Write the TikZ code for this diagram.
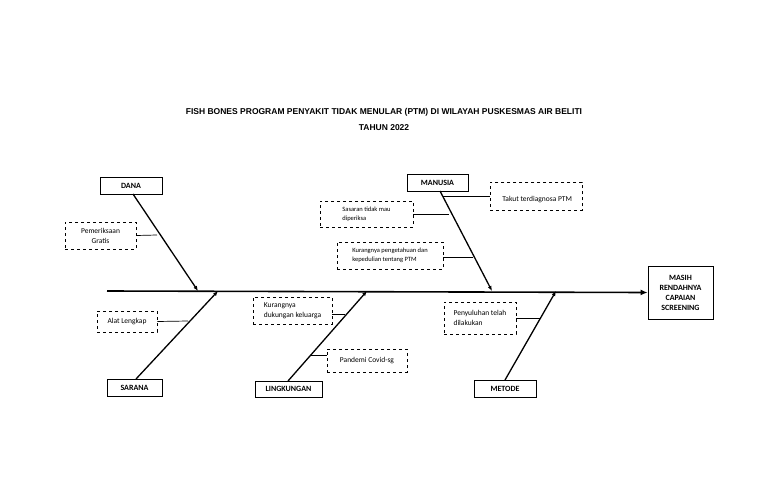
\documentclass[tikz,border=0pt]{standalone}
\usepackage{fontspec}
\setmainfont{Carlito}
\newfontfamily\titlefont{Liberation Sans}
\usetikzlibrary{arrows.meta}
\begin{document}
\begin{tikzpicture}[x=1pt,y=-1pt,
  cat/.style={draw,line width=0.8pt,inner sep=0pt,font=\fontsize{8}{9}\selectfont\bfseries},
  cause/.style={draw,dashed,line width=0.7pt,inner sep=0pt,font=\fontsize{7.5}{10}\selectfont},
  bone/.style={line width=1.3pt,-{Latex[length=5pt,width=4pt]}},
  tick/.style={line width=0.7pt}]
\useasboundingbox (0,0) rectangle (768,503);
\node[font=\titlefont\fontsize{8.5}{9}\selectfont\bfseries] (t1) at (384,112) {FISH BONES PROGRAM PENYAKIT TIDAK MENULAR (PTM) DI WILAYAH PUSKESMAS AIR BELITI};
\node[font=\titlefont\fontsize{8.5}{9}\selectfont\bfseries] (t2) at (384,128) {TAHUN 2022};
\node[cat,minimum width=65pt,minimum height=53pt,align=center] (eff) at (680.5,292.5) {MASIH\\[1pt]RENDAHNYA\\[1pt]CAPAIAN\\[1pt]SCREENING};
\coordinate (sp) at (107,291);
\draw[line width=1.6pt,-{Latex[length=7pt,width=6pt]}] (sp) -- (eff.west);
% categories
\node[cat,minimum width=62pt,minimum height=17pt] (dana) at (131,185.5) {DANA};
\node[cat,minimum width=55pt,minimum height=17pt] (sarana) at (134.5,387.5) {SARANA};
\node[cat,minimum width=67pt,minimum height=16pt] (ling) at (288.5,389) {LINGKUNGAN};
\node[cat,minimum width=61pt,minimum height=17pt] (man) at (437.5,182.5) {MANUSIA};
\node[cat,minimum width=62pt,minimum height=17pt] (met) at (505,388.5) {METODE};
\coordinate (d1) at (198,291); \coordinate (s1) at (218,291); \coordinate (l1) at (367,291);
\coordinate (m1) at (492,291); \coordinate (e1) at (556,291);
\draw[bone] (133,194) -- (d1);
\draw[bone] (136,379) -- (s1);
\draw[bone] (288,381) -- (l1);
\draw[bone] (440,191) -- (m1);
\draw[bone] (505,380) -- (e1);
% causes
\node[cause,minimum width=71pt,minimum height=27pt,align=center] (pem) at (100.5,235.5) {Pemeriksaan\\Gratis};
\node[cause,minimum width=60pt,minimum height=21pt] (alat) at (127,321.5) {Alat Lengkap};
\node[cause,minimum width=79pt,minimum height=27pt,align=left] (kd) at (292.5,310.5) {Kurangnya\\dukungan keluarga};
\node[cause,minimum width=80pt,minimum height=23pt] (pan) at (367,360.5) {Pandemi Covid-sg};
\node[cause,minimum width=92pt,minimum height=28pt,align=left,anchor=north west] (tak) at (490,182) {\rule{0pt}{11pt}\ Takut terdiagnosa PTM};
\node[cause,minimum width=93pt,minimum height=26pt,align=left,font=\fontsize{6.5}{9}\selectfont] (sas) at (366.5,214) {Sasaran tidak mau\hspace{20pt}\\diperiksa\hspace{42pt}};
\node[cause,minimum width=106pt,minimum height=27pt,align=left,font=\fontsize{6.5}{9}\selectfont] (kp) at (390,255.5) {Kurangnya pengetahuan dan\\kepedulian tentang PTM};
\node[cause,minimum width=72pt,minimum height=32pt,align=left] (pen) at (480,318) {Penyuluhan telah\\dilakukan\hspace{22pt}};
\draw[tick] (pem.east) -- (157,235);
\draw[tick] (alat.east) -- (188,321);
\draw[tick] (kd.east |- 0,314) -- (345,314);
\draw[tick] (pan.west |- 0,355) -- (311,355);
\draw[tick] (tak.west |- 0,196) -- (443,196);
\draw[tick] (sas.east) -- (449,214);
\draw[tick] (kp.east |- 0,257) -- (473,257);
\draw[tick] (pen.east) -- (540,318);
\end{tikzpicture}
\end{document}
